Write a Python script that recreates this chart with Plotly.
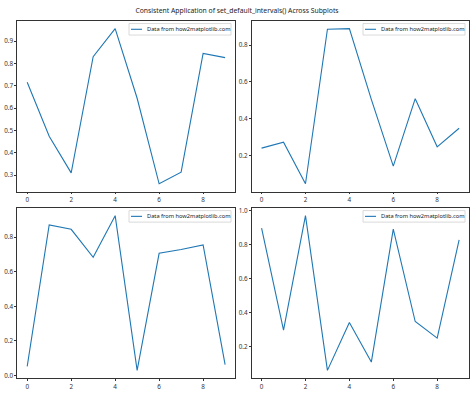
import plotly.graph_objects as go
from plotly.subplots import make_subplots

x_vals = list(range(10))
series_1 = [0.716, 0.474, 0.310, 0.830, 0.956, 0.644, 0.261, 0.313, 0.845, 0.826]
series_2 = [0.240, 0.272, 0.046, 0.887, 0.890, 0.505, 0.142, 0.509, 0.247, 0.348]
series_3 = [0.052, 0.871, 0.846, 0.684, 0.925, 0.029, 0.707, 0.729, 0.756, 0.062]
series_4 = [0.898, 0.296, 0.971, 0.059, 0.341, 0.108, 0.892, 0.347, 0.249, 0.828]
legend_label = "Data from how2matplotlib.com"
title_text = "Consistent Application of set_default_intervals() Across Subplots"

all_series = [series_1, series_2, series_3, series_4]
y_ticks = [
    [0.3, 0.4, 0.5, 0.6, 0.7, 0.8, 0.9],
    [0.2, 0.4, 0.6, 0.8],
    [0.0, 0.2, 0.4, 0.6, 0.8],
    [0.2, 0.4, 0.6, 0.8, 1.0],
]
x_ticks = [0, 2, 4, 6, 8]

LINE_COLOR = "#1f77b4"
W, H = 474, 395
fig = make_subplots(rows=2, cols=2)

# panel pixel boxes (left, right, top, bottom)
boxes = [(17.3, 235, 19, 191), (251.7, 469, 19, 191),
         (17.3, 235, 207.5, 379), (251.7, 469, 207.5, 379)]
positions = [(1, 1), (1, 2), (2, 1), (2, 2)]

font_fam = "Noto Sans, Open Sans, sans-serif"


def px(xp):
    return xp / W


def py(yp):
    return 1 - yp / H


for i, (ys, (r, c), box) in enumerate(zip(all_series, positions, boxes)):
    fig.add_trace(go.Scatter(x=x_vals, y=ys, mode="lines", name=legend_label,
                             line=dict(color=LINE_COLOR, width=1.1),
                             showlegend=False), row=r, col=c)
    lo, hi = min(ys), max(ys)
    pad = (hi - lo) * 0.05
    l, rgt, t, b = box
    fig.update_xaxes(domain=[px(l), px(rgt)], range=[-0.45, 9.45],
                     tickvals=x_ticks, row=r, col=c)
    fig.update_yaxes(domain=[py(b), py(t)], range=[lo - pad, hi + pad],
                     tickvals=y_ticks[i], tickformat=".1f", row=r, col=c)

    # legend box (matplotlib-style, upper right)
    bx0, bx1 = rgt - 106, rgt - 4
    by0, by1 = t + 2.7, t + 14.3
    ym = (by0 + by1) / 2
    fig.add_shape(type="rect", xref="paper", yref="paper",
                  x0=px(bx0), x1=px(bx1), y0=py(by1), y1=py(by0),
                  fillcolor="rgba(255,255,255,0.8)",
                  line=dict(color="#d0d0d0", width=0.8))
    fig.add_shape(type="line", xref="paper", yref="paper",
                  x0=px(bx0 + 2), x1=px(bx0 + 13), y0=py(ym), y1=py(ym),
                  line=dict(color=LINE_COLOR, width=1.1))
    fig.add_annotation(text=legend_label, xref="paper", yref="paper",
                       x=px(bx0 + 16), y=py(ym), xanchor="left", yanchor="middle",
                       showarrow=False,
                       font=dict(size=5.7, color="#222", family=font_fam))

fig.update_xaxes(showgrid=False, zeroline=False, showline=True, mirror=True,
                 linecolor="#333", linewidth=0.8, ticks="outside", ticklen=2,
                 tickcolor="#333", tickwidth=0.7,
                 tickfont=dict(size=6.3, color="#333", family=font_fam))
fig.update_yaxes(showgrid=False, zeroline=False, showline=True, mirror=True,
                 linecolor="#333", linewidth=0.8, ticks="outside", ticklen=2,
                 tickcolor="#333", tickwidth=0.7,
                 tickfont=dict(size=6.3, color="#333", family=font_fam))

fig.update_layout(
    width=W, height=H,
    margin=dict(l=0, r=0, t=0, b=0),
    paper_bgcolor="white", plot_bgcolor="white",
    showlegend=False,
    title=dict(text=title_text, x=0.5, xanchor="center", y=py(11), yanchor="middle",
               font=dict(size=6.8, color="#222", family=font_fam)),
)

fig.write_html("out.html", config={"displayModeBar": False},
               post_script="document.body.style.margin='0';document.body.style.overflow='hidden';")
